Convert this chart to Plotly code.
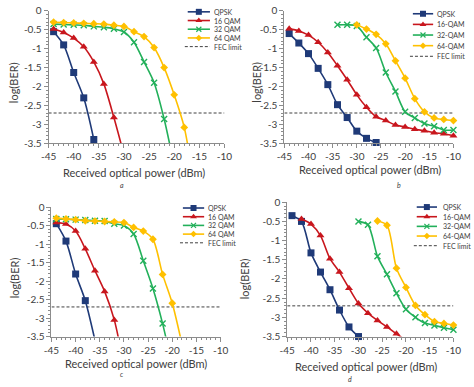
import plotly.graph_objects as go

W, H = 474, 387

# ---------------- data ----------------
SERIES = ["QPSK", "16 QAM", "32 QAM", "64 QAM"]
SERIES_DASH = ["QPSK", "16-QAM", "32-QAM", "64-QAM"]
FEC_LIMIT = -2.7

X_TICKS = [-45, -40, -35, -30, -25, -20, -15, -10]
X_TICK_LABELS = ["-45", "-40", "-35", "-30", "-25", "-20", "-15", "-10"]
Y_TICKS = [0, -0.5, -1, -1.5, -2, -2.5, -3, -3.5]
Y_TICK_LABELS = ["0", "-0.5", "-1", "-1.5", "-2", "-2.5", "-3", "-3.5"]

# panel a
a_qpsk_x = [-44, -42, -40, -38, -36]
a_qpsk_y = [-0.55, -0.9, -1.63, -2.3, -3.4]
a_16_x = [-44, -42, -40, -38, -36, -34, -32, -30]
a_16_y = [-0.48, -0.57, -0.72, -0.95, -1.35, -1.93, -2.82, -3.8]
a_32_x = [-44, -42, -40, -38, -36, -34, -32, -30, -28, -26, -24, -22, -20]
a_32_y = [-0.35, -0.36, -0.37, -0.38, -0.41, -0.43, -0.47, -0.56, -0.83, -1.35, -1.9, -2.86, -4.1]
a_64_x = [-44, -42, -40, -38, -36, -34, -32, -30, -28, -26, -24, -22, -20, -18, -16]
a_64_y = [-0.3, -0.31, -0.32, -0.33, -0.34, -0.35, -0.38, -0.41, -0.55, -0.68, -0.97, -1.5, -2.22, -3.08, -4.6]

# panel b
b_qpsk_x = [-44, -42, -40, -38, -36, -34, -32, -30, -28, -26]
b_qpsk_y = [-0.6, -0.85, -1.13, -1.52, -1.95, -2.48, -2.82, -3.18, -3.37, -3.48]
b_16_x = [-44, -42, -40, -38, -36, -34, -32, -30, -28, -26, -24, -22, -20, -18, -16, -14, -12, -10]
b_16_y = [-0.47, -0.53, -0.64, -0.83, -1.1, -1.45, -1.82, -2.22, -2.55, -2.8, -2.9, -3.02, -3.07, -3.13, -3.17, -3.22, -3.25, -3.3]
b_32_x = [-34, -32, -30, -28, -26, -24, -22, -20, -18, -16, -14, -12, -10]
b_32_y = [-0.37, -0.37, -0.4, -0.7, -0.98, -1.63, -2.13, -2.67, -2.83, -2.98, -3.05, -3.15, -3.15]
b_64_x = [-30, -28, -26, -24, -22, -20, -18, -16, -14, -12, -10]
b_64_y = [-0.37, -0.48, -0.62, -0.87, -1.32, -1.78, -2.32, -2.67, -2.83, -2.87, -2.9]

# panel c
c_qpsk_x = [-44, -42, -40, -38, -36]
c_qpsk_y = [-0.45, -0.92, -1.81, -2.53, -3.6]
c_16_x = [-44, -42, -40, -38, -36, -34, -32, -30]
c_16_y = [-0.42, -0.46, -0.65, -1.13, -1.72, -2.28, -3.05, -4.3]
c_32_x = [-44, -42, -40, -38, -36, -34, -32, -30, -28, -26, -24, -22, -20]
c_32_y = [-0.32, -0.33, -0.34, -0.35, -0.37, -0.38, -0.45, -0.5, -0.73, -1.45, -2.2, -3.15, -4.3]
c_64_x = [-44, -42, -40, -38, -36, -34, -32, -30, -28, -26, -24, -22, -20, -18]
c_64_y = [-0.3, -0.32, -0.34, -0.37, -0.38, -0.39, -0.4, -0.42, -0.55, -0.65, -0.87, -1.82, -2.6, -3.7]

# panel d
d_qpsk_x = [-44, -42, -40, -38, -36, -34, -32, -30]
d_qpsk_y = [-0.35, -0.5, -1.32, -1.82, -2.28, -2.81, -3.25, -3.5]
d_16_x = [-42, -40, -38, -36, -34, -32, -30, -28, -26, -24, -22, -20]
d_16_y = [-0.44, -0.57, -0.87, -1.47, -1.82, -2.24, -2.64, -2.89, -3.08, -3.25, -3.43, -3.6]
d_32_x = [-30, -28, -26, -24, -22, -20, -18, -16, -14, -12, -10]
d_32_y = [-0.5, -0.59, -1.41, -1.88, -2.37, -2.79, -3.0, -3.15, -3.21, -3.27, -3.32]
d_64_x = [-26, -24, -22, -20, -18, -16, -14, -12, -10]
d_64_y = [-0.49, -0.6, -1.72, -2.22, -2.69, -2.93, -3.11, -3.16, -3.2]

PANELS = [
    ("a", [(a_qpsk_x, a_qpsk_y), (a_16_x, a_16_y), (a_32_x, a_32_y), (a_64_x, a_64_y)], SERIES),
    ("b", [(b_qpsk_x, b_qpsk_y), (b_16_x, b_16_y), (b_32_x, b_32_y), (b_64_x, b_64_y)], SERIES_DASH),
    ("c", [(c_qpsk_x, c_qpsk_y), (c_16_x, c_16_y), (c_32_x, c_32_y), (c_64_x, c_64_y)], SERIES),
    ("d", [(d_qpsk_x, d_qpsk_y), (d_16_x, d_16_y), (d_32_x, d_32_y), (d_64_x, d_64_y)], SERIES_DASH),
]

# ---------------- style / layout ----------------
COLORS = ["#1F3A78", "#C8161D", "#22B05A", "#FFC000"]
SYMBOLS = ["square", "triangle-up", "x-thin", "diamond"]
SIZES = [7, 7, 6, 6]
FONT = "Lato, 'Open Sans', sans-serif"
TXT = "#404040"
AX = "#8C8C8C"

# plot-area boxes in pixels: (left, right, top, bottom)
BOXES = [(42, 224, 4, 141), (286, 461, 4, 141), (45, 220, 207, 341), (289, 461, 202, 341)]
# legend: (line x0, line x1, text x, first row y, row step)
LEG = [(186, 209, 211, 5, 9), (419, 440, 442, 7, 11), (181, 203, 205, 208, 9), (423, 444, 448, 207, 10)]
YTITLE = [(6, 78), (257, 78), (7, 280), (245, 281)]
XTITLE = [(130, 171), (375, 168), (132, 369), (370, 372)]
LETTER = [(118, 184), (405, 184), (118, 380), (354, 385)]


def px(x):
    return x / W


def py(y):
    return 1 - y / H


fig = go.Figure()
layout = dict(
    width=W, height=H, margin=dict(l=0, r=0, t=0, b=0),
    paper_bgcolor="white", plot_bgcolor="rgba(0,0,0,0)",
    showlegend=False, hovermode=False, font=dict(family=FONT, color=TXT, size=10),
)
annotations = []

for i, (letter, series, names) in enumerate(PANELS):
    n = i + 1
    xa, ya = ("x" if n == 1 else f"x{n}"), ("y" if n == 1 else f"y{n}")
    l, r, t, b = BOXES[i]
    axcommon = dict(showgrid=False, zeroline=False, showline=True, linecolor=AX, linewidth=1,
                    ticks="outside", ticklen=4, tickcolor=AX, tickwidth=1,
                    tickfont=dict(size=10, color=TXT, family=FONT))
    layout[f"xaxis{'' if n == 1 else n}"] = dict(
        axcommon, domain=[px(l), px(r)], anchor=ya, range=[-45, -10],
        tickmode="array", tickvals=X_TICKS, ticktext=X_TICK_LABELS,
        minor=dict(dtick=1, tick0=-45, ticks="outside", ticklen=2, tickcolor=AX))
    layout[f"yaxis{'' if n == 1 else n}"] = dict(
        axcommon, domain=[py(b), py(t)], anchor=xa, range=[-3.5, 0],
        tickmode="array", tickvals=Y_TICKS, ticktext=Y_TICK_LABELS,
        minor=dict(dtick=0.1, tick0=0, ticks="outside", ticklen=2, tickcolor=AX))

    # FEC limit
    fig.add_trace(go.Scatter(x=[-45, -10], y=[FEC_LIMIT, FEC_LIMIT], mode="lines",
                             line=dict(color="#404040", width=1, dash="3px,2px"),
                             xaxis=xa, yaxis=ya, hoverinfo="skip"))
    for k, (sx, sy) in enumerate(series):
        fig.add_trace(go.Scatter(x=sx, y=sy, mode="lines", line=dict(color=COLORS[k], width=1.6, shape="spline", smoothing=0.8),
                                 xaxis=xa, yaxis=ya, hoverinfo="skip"))
        mx = [x for x, y in zip(sx, sy) if y >= -3.5]
        my = [y for y in sy if y >= -3.5]
        fig.add_trace(go.Scatter(x=mx, y=my, mode="markers", cliponaxis=False,
                                 marker=dict(symbol=SYMBOLS[k], size=SIZES[k], color=COLORS[k],
                                             line=dict(color=COLORS[k], width=1.4 if k == 2 else 0)),
                                 xaxis=xa, yaxis=ya, name=names[k]))

    # legend (drawn on a pixel-space overlay axis)
    lx0, lx1, tx, ry, step = LEG[i]
    for k in range(5):
        yy = ry + k * step
        if k < 4:
            fig.add_trace(go.Scatter(x=[lx0, lx1], y=[yy, yy], mode="lines", line=dict(color=COLORS[k], width=1.6),
                                     xaxis="x5", yaxis="y5", hoverinfo="skip"))
            fig.add_trace(go.Scatter(x=[(lx0 + lx1) / 2], y=[yy], mode="markers", cliponaxis=False,
                                     marker=dict(symbol=SYMBOLS[k], size=SIZES[k] - 1, color=COLORS[k],
                                                 line=dict(color=COLORS[k], width=1.2 if k == 2 else 0)),
                                     xaxis="x5", yaxis="y5", hoverinfo="skip"))
            label = names[k]
        else:
            fig.add_trace(go.Scatter(x=[lx0 - 3, lx1], y=[yy, yy], mode="lines",
                                     line=dict(color="#404040", width=1, dash="3px,2px"),
                                     xaxis="x5", yaxis="y5", hoverinfo="skip"))
            label = "FEC limit"
        annotations.append(dict(x=px(tx), y=py(yy), xref="paper", yref="paper", text=label,
                                showarrow=False, xanchor="left", yanchor="middle",
                                font=dict(size=7, color=TXT, family=FONT)))

    ytx, yty = YTITLE[i]
    annotations.append(dict(x=px(ytx), y=py(yty), xref="paper", yref="paper", text="log(BER)",
                            showarrow=False, textangle=-90, xanchor="center", yanchor="middle",
                            font=dict(size=11, color=TXT, family=FONT)))
    xtx, xty = XTITLE[i]
    annotations.append(dict(x=px(xtx), y=py(xty), xref="paper", yref="paper",
                            text="Received optical power (dBm)", showarrow=False,
                            xanchor="center", yanchor="middle",
                            font=dict(size=11, color=TXT, family=FONT)))
    ltx, lty = LETTER[i]
    annotations.append(dict(x=px(ltx), y=py(lty), xref="paper", yref="paper",
                            text=f"<i>{letter}</i>", showarrow=False, xanchor="center", yanchor="middle",
                            font=dict(size=7, color=TXT, family=FONT)))

layout["xaxis5"] = dict(domain=[0, 1], range=[0, W], visible=False, anchor="y5", fixedrange=True)
layout["yaxis5"] = dict(domain=[0, 1], range=[H, 0], visible=False, anchor="x5", fixedrange=True)
layout["annotations"] = annotations
fig.update_layout(**layout)
fig.write_html("out.html", config={"displayModeBar": False, "staticPlot": True},
               post_script="document.body.style.margin='0px';document.body.style.padding='0px';")
